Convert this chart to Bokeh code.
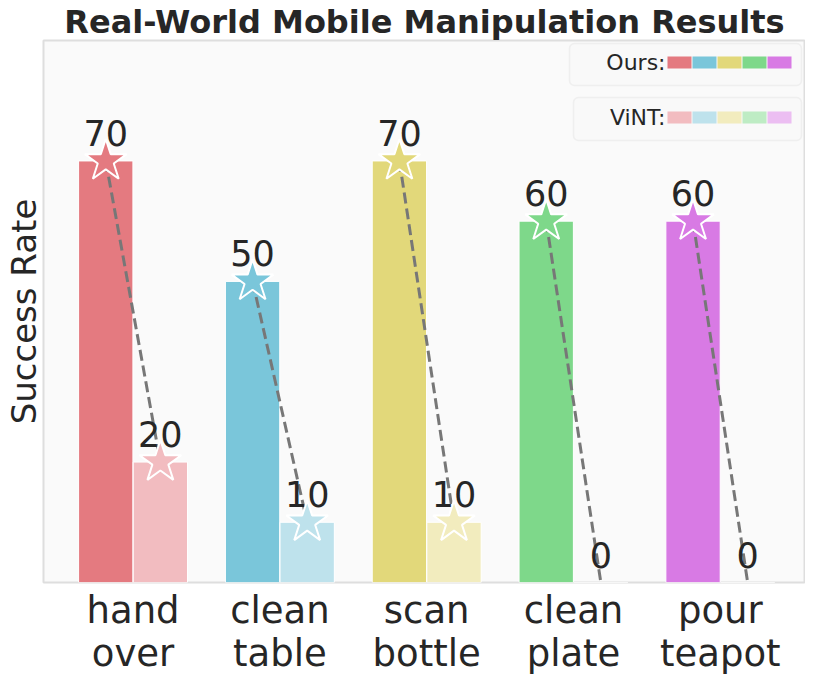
import numpy as np
from bokeh.plotting import figure
from bokeh.models import Range1d, FixedTicker, BoxAnnotation, Label
from bokeh.core.properties import value
from bokeh.embed import file_html
from bokeh.resources import INLINE

# ---- data ----
categories = ["hand\nover", "clean\ntable", "scan\nbottle", "clean\nplate", "pour\nteapot"]
ours = [70, 50, 70, 60, 60]
vint = [20, 10, 10, 0, 0]
ours_colors = ["#e47a80", "#7ac6da", "#e2d87a", "#7ed88a", "#d87ae4"]
vint_colors = ["#f2bcc0", "#bee2ec", "#f2ecbe", "#beecc4", "#ecbef2"]
series_names = ["Ours", "ViNT"]
title_text = "Real-World Mobile Manipulation Results"
y_label = "Success Rate"

FONT = "DejaVu Sans"
TXT = "#262626"

FW, FH = 762, 542

idx = np.arange(len(categories))
off = 0.186
bw = 0.37

p = figure(frame_width=FW, frame_height=FH, output_backend="svg", toolbar_location=None,
           x_range=Range1d(-0.61, len(categories) - 1 + 0.58),
           y_range=Range1d(0, 90),
           min_border_left=36, min_border_right=0,
           min_border_top=0, min_border_bottom=0,
           title=title_text)

p.background_fill_color = "#fafafa"
p.border_fill_color = "white"
p.outline_line_color = "#dedede"
p.outline_line_width = 2
p.xgrid.visible = False
p.ygrid.visible = False

p.title.text_font = FONT
p.title.text_font_size = "32px"
p.title.text_font_style = "bold"
p.title.text_color = TXT
p.title.align = "center"
p.title.standoff = 0
p.title.offset = 0

# bars
ours_x = idx - off
vint_x = idx + off
p.vbar(x=ours_x, top=ours, bottom=0, width=bw, fill_color=ours_colors,
       line_color="white", line_width=1)
p.vbar(x=vint_x, top=vint, bottom=0, width=bw, fill_color=vint_colors,
       line_color="white", line_width=1)

# dashed connectors (beneath the stars)
p.segment(x0=ours_x, y0=ours, x1=vint_x, y1=vint, line_color="#777777",
          line_width=3, line_dash="11 5")

# stars
om = [v > 0 for v in ours]
p.scatter(x=ours_x[om], y=np.array(ours)[om], marker="star", size=44,
          fill_color=list(np.array(ours_colors)[om]), line_color="white", line_width=2)
vm = [v > 0 for v in vint]
p.scatter(x=vint_x[vm], y=np.array(vint)[vm], marker="star", size=44,
          fill_color=list(np.array(vint_colors)[vm]), line_color="white", line_width=2)

# value labels
for xs, vals in ((ours_x, ours), (vint_x, vint)):
    p.text(x=xs, y=vals, text=[str(v) for v in vals], text_align="center",
           text_baseline="bottom", y_offset=-15, text_font=value(FONT),
           text_font_size="35px", text_color=TXT)

# axes
xa = p.xaxis[0]
xa.ticker = FixedTicker(ticks=[int(i) for i in idx])
xa.major_label_overrides = {int(i): c for i, c in zip(idx, categories)}
xa.major_tick_line_color = None
xa.minor_tick_line_color = None
xa.axis_line_color = None
xa.major_label_text_font = FONT
xa.major_label_text_font_size = "37px"
xa.major_label_text_color = TXT
xa.major_label_text_line_height = 1.0
xa.major_label_standoff = 0

ya = p.yaxis[0]
ya.ticker = FixedTicker(ticks=[])
ya.major_tick_line_color = None
ya.minor_tick_line_color = None
ya.axis_line_color = None
ya.axis_label = y_label
ya.axis_label_text_font = FONT
ya.axis_label_text_font_size = "34px"
ya.axis_label_text_font_style = "normal"
ya.axis_label_text_color = TXT
ya.axis_label_standoff = 0

# legend (two boxes with colour swatches)
boxes = [
    dict(left=FW - 236, right=FW - 4, top=FH - 3, bottom=FH - 45, sw_top=FH - 16, ty=FH - 22),
    dict(left=FW - 232, right=FW - 4, top=FH - 57, bottom=FH - 100, sw_top=FH - 71, ty=FH - 77),
]
for name, cols, b in zip(series_names, (ours_colors, vint_colors), boxes):
    p.add_layout(BoxAnnotation(left=b["left"], right=b["right"], top=b["top"], bottom=b["bottom"],
                               left_units="screen", right_units="screen",
                               top_units="screen", bottom_units="screen",
                               fill_color="#f9f9f9", fill_alpha=1.0,
                               line_color="#d8d8d8", line_width=1.5, border_radius=5,
                               level="overlay"))
    for i, c in enumerate(cols):
        l = FW - 138 + 25 * i
        p.add_layout(BoxAnnotation(left=l, right=l + 24, top=b["sw_top"], bottom=b["sw_top"] - 12,
                                   left_units="screen", right_units="screen",
                                   top_units="screen", bottom_units="screen",
                                   fill_color=c, fill_alpha=1.0, line_color=None,
                                   level="overlay"))
    p.add_layout(Label(x=FW - 140, y=b["ty"], x_units="screen", y_units="screen",
                       text=name + ":", text_align="right", text_baseline="middle",
                       text_font=FONT, text_font_size="22px", text_color=TXT,
                       level="overlay"))

open("out.html", "w").write(file_html(p, INLINE))
